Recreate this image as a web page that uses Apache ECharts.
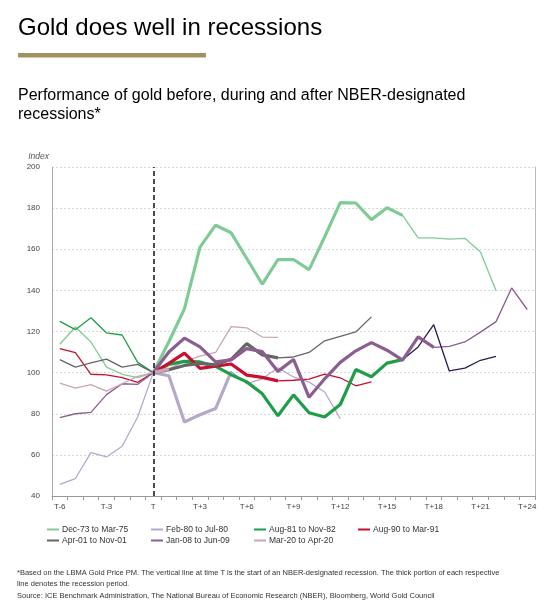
<!DOCTYPE html>
<html>
<head>
<meta charset="utf-8">
<script src="https://cdn.jsdelivr.net/npm/echarts@6/dist/echarts.min.js"></script>
<style>
html,body{margin:0;padding:0;background:#fff;}
#chart{width:556px;height:601px;}
</style>
</head>
<body>
<div id="chart"></div>
<script>
// Categories: months relative to start of recession (T)
var categories = ['T-6','T-5','T-4','T-3','T-2','T-1','T',
  'T+1','T+2','T+3','T+4','T+5','T+6','T+7','T+8','T+9','T+10','T+11','T+12',
  'T+13','T+14','T+15','T+16','T+17','T+18','T+19','T+20','T+21','T+22','T+23','T+24'];

var yTicks = [40, 60, 80, 100, 120, 140, 160, 180, 200];

var dec73 = [113.8,122.2,114.9,102.7,99.2,97.6,100,115,131,161,171.7,168,155.5,143,155,155,150.1,166,182.7,182.5,174.4,180.2,176.5,165.5,165.5,164.9,165.3,158.7,139.8,null,null];
var feb80 = [45.7,48.5,61.1,59,64.2,78.4,100,98.5,76,79.5,82.5,100.5,94.6,97,102.4,97.9,95.4,90.6,77.6,null,null,null,null,null,null,null,null,null,null,null,null];
var aug81 = [124.9,120.9,126.7,119.3,118.3,105,100,104,105.5,105.2,103,99,95.5,89.7,79,89.2,80.5,78.4,84.5,101.5,98,104.6,106.3,null,null,null,null,null,null,null,null];
var aug81After = [null,null,null,null,null,null,null,null,null,null,null,null,null,null,null,null,null,null,null,null,null,null,106.3,112.5,123.3,100.8,102.2,106,107.9,null,null];
var aug90 = [111.7,109.7,99.2,98.9,97.6,95.3,100,104.5,109.5,102.1,103.1,104.2,98.8,97.7,96,96.3,96.8,99.3,97.5,93.6,95.5,null,null,null,null,null,null,null,null,null,null];
var apr01 = [106.3,102.7,104.7,106.6,102.7,104,100,101.4,103.5,104.5,103.8,106.5,114.1,108.6,107.2,107.6,109.8,115.5,117.6,119.8,127.1,null,null,null,null,null,null,null,null,null,null];
var jan08 = [78.1,80,80.7,89.3,94.6,94.3,100,110,116.8,112.5,105.2,106.2,111.7,110.2,100.6,106.4,88,97,105,110.6,114.6,110.9,106.1,117.4,112.3,112.8,114.9,119.7,124.8,141.2,130.7];
var mar20 = [94.9,92.5,94.2,91,94.6,98.2,100,101.8,105.5,108,109.8,122.4,121.8,117.3,117.1,null,null,null,null,null,null,null,null,null,null,null,null,null,null,null,null];

// Recession (thick) portion: category index range [start, end]
var recessions = [
  {name:'Dec-73 to Mar-75', data:dec73, color:'#80cb95', thick:[6,22]},
  {name:'Feb-80 to Jul-80', data:feb80, color:'#b6a8ca', thick:[6,11]},
  {name:'Aug-81 to Nov-82', data:aug81, color:'#1f9e4a', thick:[6,22]},
  {name:'Aug-90 to Mar-91', data:aug90, color:'#c8102e', thick:[6,14]},
  {name:'Apr-01 to Nov-01', data:apr01, color:'#666666', thick:[6,14]},
  {name:'Jan-08 to Jun-09', data:jan08, color:'#8b5d90', thick:[6,24]},
  {name:'Mar-20 to Apr-20', data:mar20, color:'#c9a5b2', thick:[6,7]}
];

function slice(arr, r){
  return arr.map(function(v,i){ return (i>=r[0] && i<=r[1]) ? v : null; });
}

var series = [];
recessions.forEach(function(r){
  series.push({name:r.name, type:'line', data:r.data, color:r.color, showSymbol:false,
    symbol:'none', lineStyle:{width:1.3, color:r.color}, z:2});
});
series.push({name:'aug81-after', type:'line', data:aug81After, color:'#2e1a52', showSymbol:false,
  symbol:'none', lineStyle:{width:1.3, color:'#2e1a52'}, z:2});
recessions.forEach(function(r){
  series.push({name:r.name, type:'line', data:slice(r.data, r.thick), color:r.color, showSymbol:false,
    symbol:'none', lineStyle:{width:3.2, color:r.color}, z:3});
});
// vertical dashed line at T
series[0].markLine = {
  silent:true, symbol:'none', animation:false,
  label:{show:false},
  lineStyle:{type:[5,3], color:'#111', width:1.5},
  data:[{xAxis:'T'}]
};

function legendAt(name, left, top){
  return {data:[name], left:left, top:top, padding:0, itemWidth:12, itemHeight:2,
    icon:'rect', selectedMode:false,
    textStyle:{fontSize:8.5, color:'#333', fontFamily:'Liberation Sans, Arial', lineHeight:11, padding:[0,0,0,-2]}};
}

var ff = 'Liberation Sans, Arial, sans-serif';
var chart = echarts.init(document.getElementById('chart'), null, {renderer:'canvas'});
chart.setOption({
  animation:false,
  backgroundColor:'#fff',
  grid:{left:52, right:21, top:167, bottom:105, containLabel:false},
  xAxis:{
    type:'category', data:categories, boundaryGap:true,
    axisLine:{lineStyle:{color:'#999', width:1}},
    axisTick:{show:true, interval:0, length:4, lineStyle:{color:'#999'}},
    axisLabel:{interval:2, fontSize:8, color:'#444', fontFamily:ff, margin:7},
    splitLine:{show:false}
  },
  yAxis:[{
    type:'value', min:yTicks[0], max:yTicks[yTicks.length-1], interval:20,
    name:'Index', nameLocation:'end', nameGap:6,
    nameTextStyle:{fontSize:8.5, fontStyle:'italic', color:'#555', fontFamily:ff, align:'right', padding:[0,3,0,0]},
    axisLine:{show:true, lineStyle:{color:'#aaa'}},
    axisTick:{show:false},
    axisLabel:{fontSize:8, color:'#444', fontFamily:ff, margin:12},
    splitLine:{show:true, lineStyle:{color:'#cfcfcf', type:[2,2], width:0.8}}
  },{
    type:'value', min:40, max:200, interval:20, position:'right',
    axisLine:{show:true, lineStyle:{color:'#bbb'}},
    axisTick:{show:false}, axisLabel:{show:false}, splitLine:{show:false}
  }],
  legend:[
    legendAt('Dec-73 to Mar-75', 47, 524),
    legendAt('Apr-01 to Nov-01', 47, 535),
    legendAt('Feb-80 to Jul-80', 151, 524),
    legendAt('Jan-08 to Jun-09', 151, 535),
    legendAt('Aug-81 to Nov-82', 254, 524),
    legendAt('Mar-20 to Apr-20', 254, 535),
    legendAt('Aug-90 to Mar-91', 358, 524)
  ],
  graphic:[
    {type:'text', left:18, top:16, style:{text:'Gold does well in recessions', font:'24px '+ff, fill:'#000'}},
    {type:'rect', left:18, top:53, shape:{width:188, height:4.5}, style:{fill:'#a3915f'}},
    {type:'text', left:18, top:86, style:{text:'Performance of gold before, during and after NBER-designated\nrecessions*', font:'16px '+ff, fill:'#000', lineHeight:19}},
    {type:'text', left:17, top:567, style:{text:'*Based on the LBMA Gold Price PM. The vertical line at time T is the start of an NBER-designated recession. The thick portion of each respective\nline denotes the recession period.', font:'7.5px '+ff, fill:'#333', lineHeight:11}},
    {type:'text', left:17, top:592, style:{text:'Source: ICE Benchmark Administration, The National Bureau of Economic Research (NBER), Bloomberg, World Gold Council', font:'7.5px '+ff, fill:'#333'}}
  ],
  series:series
});
</script>
</body>
</html>
